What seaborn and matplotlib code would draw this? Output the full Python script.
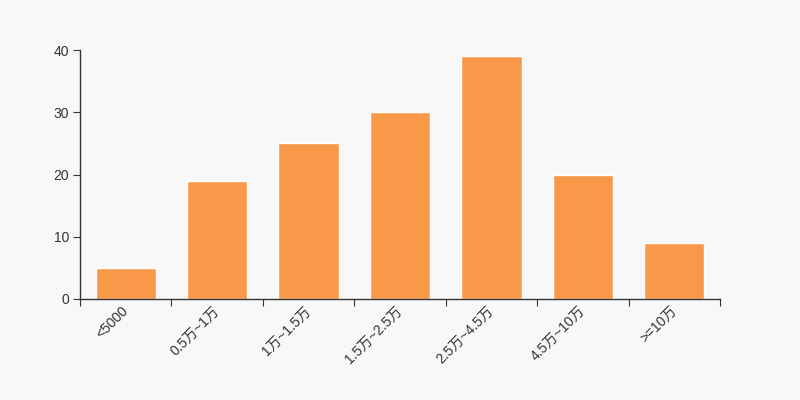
import matplotlib
matplotlib.use("Agg")
import matplotlib.pyplot as plt
import seaborn as sns
import pandas as pd
import numpy as np

categories = ["<5000", "0.5万~1万", "1万~1.5万", "1.5万~2.5万", "2.5万~4.5万", "4.5万~10万", ">=10万"]
values = [5, 19, 25, 30, 39, 20, 9]
yticks = [0, 10, 20, 30, 40]

sns.set_style("ticks")
plt.rcParams['font.family'] = ['Liberation Sans', 'Noto Sans CJK SC', 'DejaVu Sans']

bg = "#f8f8f8"
fig = plt.figure(figsize=(8, 4), dpi=100, facecolor=bg)
ax = fig.add_axes([0.1, 0.2525, 0.8, 0.6225])
ax.set_facecolor(bg)

df = pd.DataFrame({"cat": categories, "val": values})
sns.barplot(data=df, x="cat", y="val", color="#f89848", saturation=1, width=0.66, ax=ax)

ax.set_xlim(-0.5, len(categories) - 0.5)
ax.set_ylim(0, 40)
ax.set_yticks(yticks)
ax.set_xlabel("")
ax.set_ylabel("")

# boundary ticks
ax.set_xticks(np.arange(len(categories) + 1) - 0.5)
ax.set_xticklabels([""] * (len(categories) + 1))
ax.set_xticks(np.arange(len(categories)), minor=True)
ax.set_xticklabels(categories, minor=True, rotation=45, ha="right", va="center",
                   rotation_mode="anchor", fontsize=10, color="#333333")
ax.tick_params(axis="x", which="minor", length=0, pad=7)
ax.tick_params(axis="x", which="major", length=5, color="#333333")
ax.tick_params(axis="y", length=5, color="#333333", labelsize=10, labelcolor="#333333", pad=3)

for s in ["top", "right"]:
    ax.spines[s].set_visible(False)
for s in ["left", "bottom"]:
    ax.spines[s].set_color("#333333")
    ax.spines[s].set_linewidth(1)

fig.savefig("out.png", dpi=100, facecolor=bg)
